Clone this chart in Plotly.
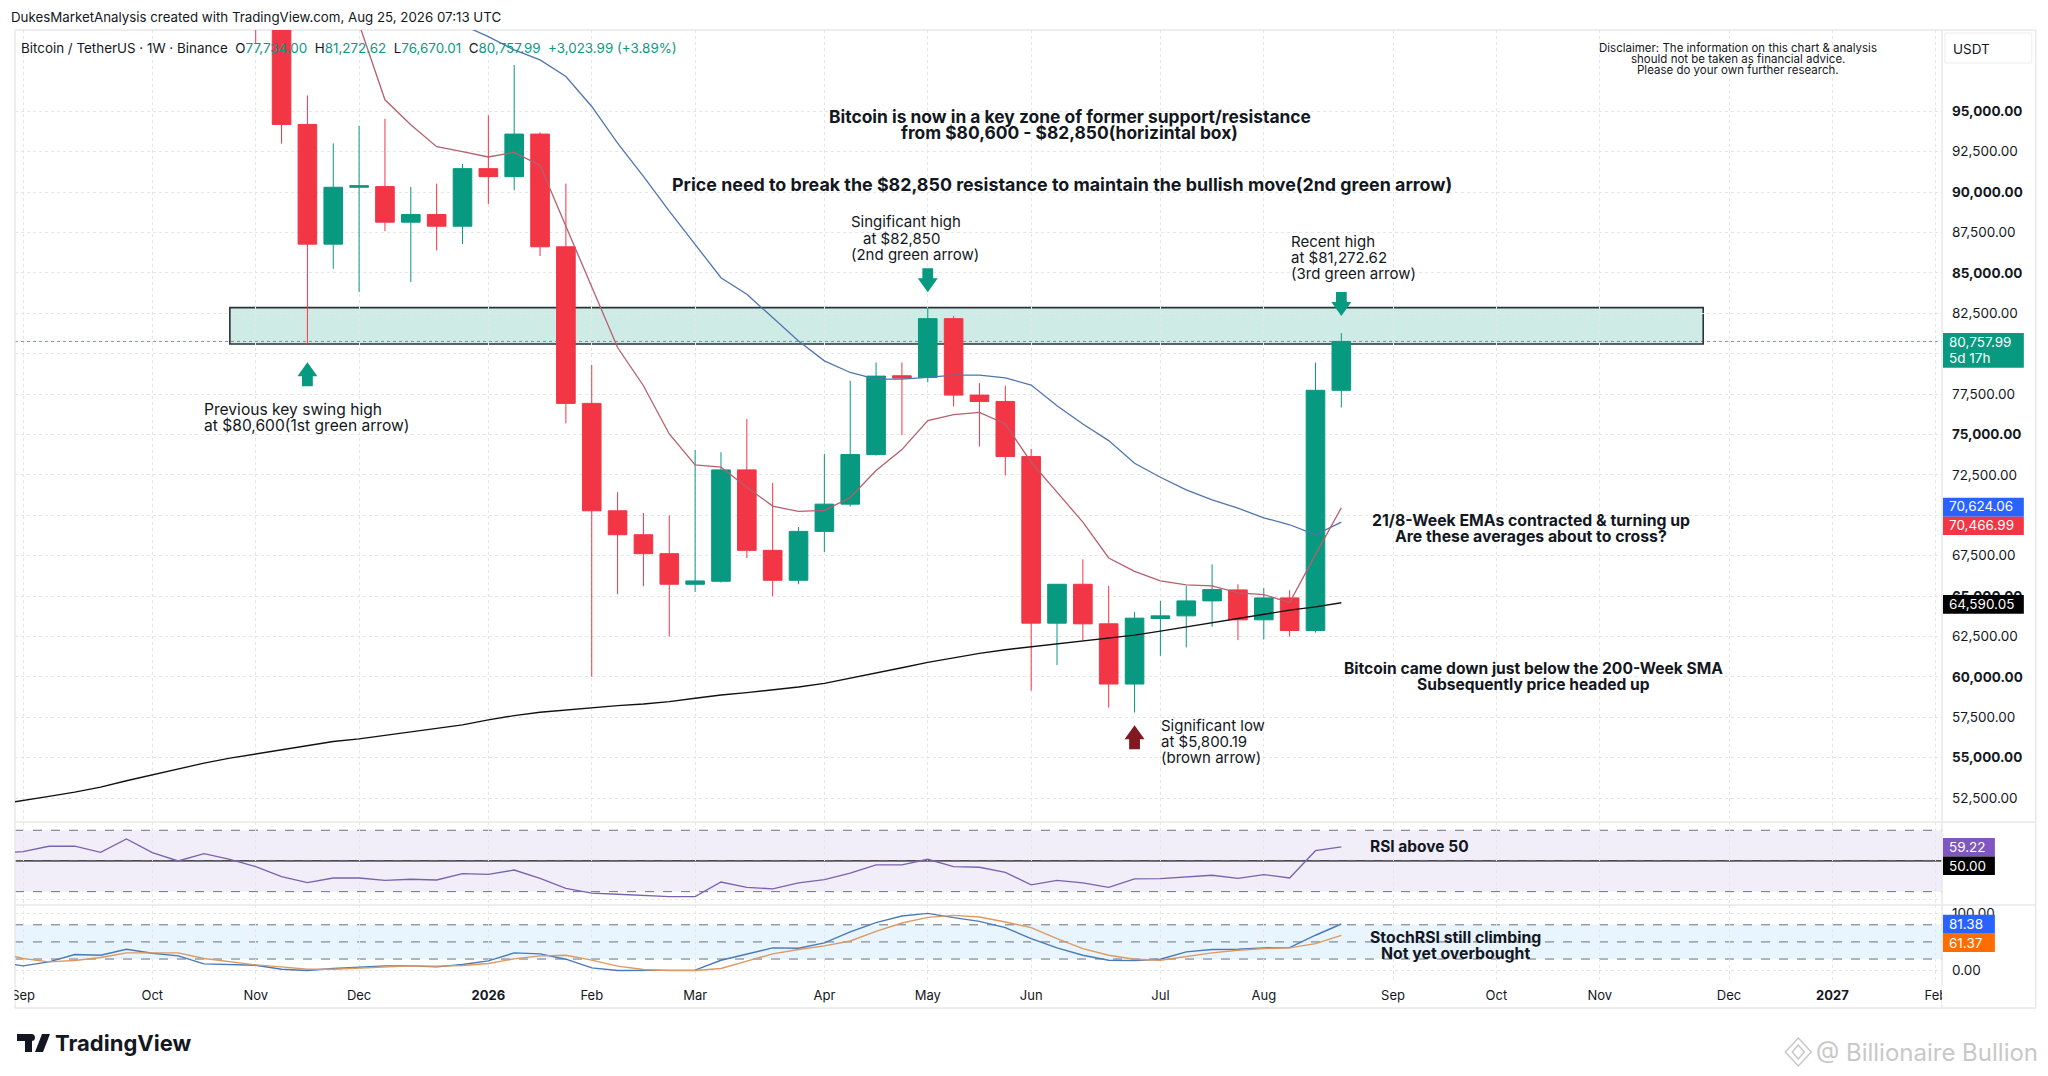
import plotly.graph_objects as go
import pandas as pd

PAGE_W, PAGE_H = 2048, 1076
BODY = 8  # the page's own margin round the figure
W, H = PAGE_W - BODY, PAGE_H - BODY
L, R, T, B = 11, 1942, 30, 983
SCALE_R = 2036
FONT = "Inter"
GREEN, RED = "#089981", "#F23645"

# ---- weekly data ----
week_start = "2025-08-25"
weeks = [d.strftime("%Y-%m-%d") for d in pd.date_range(week_start, "2026-08-24", freq="7D")]
candle_weeks = weeks[10:]
opens = [108000, 101500, 94187, 86780, 90300, 90340, 88138, 88611, 87890, 91451, 90957, 93590, 86615,
         76924, 70278, 68797, 67624, 65731, 65916, 72809, 67830, 65978, 69003, 70690, 73756, 78633,
         78530, 82168, 77436, 77045, 73632, 63324, 65731, 63283, 59558, 63612, 63776, 64702, 65381,
         63530, 64887, 62871, 77734.00]
highs = [110000, 103000, 95980, 93015, 94105, 94537, 90319, 90525, 91739, 94743, 97870, 93700, 90525,
         79310, 71431, 70134, 69990, 74044, 73900, 75957, 72007, 69270, 73797, 78323, 79456, 79456,
         82850, 82333, 78180, 78015, 74106, 65731, 67274, 65628, 64023, 64702, 65628, 66966, 65731,
         65505, 65361, 79456, 81272.62]
lows = [99208, 92994, 80540, 85258, 83817, 87582, 84434, 86390, 86780, 89270, 90113, 86040, 75690,
        60011, 65114, 65608, 62500, 65258, 65834, 67357, 64990, 65731, 67727, 70546, 73694, 74970,
        78221, 76736, 74250, 72460, 59147, 60731, 62274, 58097, 57800.19, 61307, 61822, 63097, 62274,
        62315, 62500, 62748, 76670.01]
closes = [102000, 94187, 86780, 90298, 90400, 88138, 88611, 87890, 91451, 90957, 93590, 86615, 76924,
          70278, 68797, 67624, 65731, 65937, 72809, 67830, 65978, 69003, 70690, 73756, 78612, 78489,
          82168, 77436, 77045, 73632, 63324, 65731, 63283, 59558, 63633, 63776, 64702, 65402, 63530,
          64887, 62871, 77734.00, 80757.99]

ema8 = [None] * 14 + [100400, 95710, 94167, 92809, 92500, 92171, 92459, 91656, 87890, 84187, 80380, 78015,
        75032, 73118, 72974, 71739, 70566, 70237, 70299, 71100, 72768, 74064, 75855, 76225, 76369, 75649,
        73283, 71431, 69579, 67357, 66534, 65937, 65690, 65628, 65196, 65093, 64600, 67562, 70466.99]
ema21 = [None] * 18 + [100339, 99620, 98796, 98179, 97150, 95298, 93035, 90977, 88818, 86760, 84702, 83675,
         82232, 80792, 79556, 78836, 78425, 78425, 78530, 78674, 78674, 78509, 78056, 76780, 75649, 74620,
         73221, 72356, 71575, 70957, 70443, 69846, 69414, 68797, 69579, 70624.06]
sma200 = [52100, 52336, 52604, 52871, 53180, 53570, 53941, 54311, 54661, 54970, 55217, 55484, 55752, 55999,
          56163, 56369, 56575, 56781, 57027, 57336, 57604, 57809, 57953, 58097, 58221, 58324, 58468, 58674,
          58879, 59024, 59187, 59373, 59600, 59908, 60237, 60566, 60896, 61184, 61451, 61678, 61863, 62028,
          62233, 62418, 62583, 62830, 63097, 63365, 63612, 63859, 64127, 64331, 64590.05]
rsi = [55, 56.1, 59.6, 59.6, 55.6, 64.3, 55.4, 50, 54.8, 51.1, 46.3, 39.8, 35.9, 38.9, 38.9, 37.4, 38.1, 37.6,
       41.7, 41.3, 44.1, 38.7, 32.2, 29.1, 28.3, 27.6, 26.8, 26.8, 36.3, 32.8, 31.8, 35.7, 37.8, 42, 47.4, 47.4,
       51.1, 46.3, 45.9, 42.6, 34.4, 37.4, 35.7, 32.8, 38.3, 38.5, 39.8, 40.7, 38.7, 41.1, 38.9, 56.7, 59.22]
stoch_k = [15, 8, 15, 27.9, 26.7, 37.2, 30.2, 25.5, 11.5, 9.8, 9.2, 2.2, 0, 3.4, 6.3, 8, 8, 6.3, 10.4, 16.8,
           30.8, 29, 19.7, 4.5, 0, 0, 0, 0.5, 17.9, 29, 39.5, 38.9, 48.3, 67.5, 83.8, 95.5, 100, 92.5, 86.1, 75,
           55.8, 39.5, 26.7, 18, 17.4, 19.7, 32.5, 36.6, 37.2, 39.5, 40, 61.7, 81.38]
stoch_d = [32.5, 21, 15, 17.4, 22.6, 30.8, 30.8, 30.8, 20.9, 15, 9.8, 6.3, 2.2, 2.2, 4.5, 6.3, 8, 7.5, 8.6, 12.1,
           20.3, 25.5, 26.7, 18, 7.5, 1.6, 0, 0, 3.4, 16.2, 29, 36.6, 43, 51.7, 68.6, 83.2, 93.1, 96.6, 93.7, 85,
           75, 55.8, 38.3, 26.7, 19.7, 18, 24.9, 30.8, 35.4, 38.3, 39.5, 47, 61.37]

price_ticks = list(range(52500, 95001, 2500))
hidden_by_tags = (70000, 80000)
price_ticktext = ["" if v in hidden_by_tags else (f"<b>{v:,.2f}</b>" if v % 5000 == 0 else f"{v:,.2f}") for v in price_ticks]
time_ticks = ["2025-09-01", "2025-10-06", "2025-11-03", "2025-12-01", "2026-01-05", "2026-02-02", "2026-03-02",
              "2026-04-06", "2026-05-04", "2026-06-01", "2026-07-06", "2026-08-03", "2026-09-07", "2026-10-05",
              "2026-11-02", "2026-12-07", "2027-01-04", "2027-02-01"]
time_labels = ["Sep", "Oct", "Nov", "Dec", "<b>2026</b>", "Feb", "Mar", "Apr", "May", "Jun", "Jul", "Aug", "Sep",
               "Oct", "Nov", "Dec", "<b>2027</b>", "Feb"]

zone_low, zone_high = 80600, 82850
last_close = 80757.99


def px(x):
    return (x - L) / (R - L)


def py(y):
    return 1 - (y - T) / (B - T)


def dom(y_top, y_bot):
    return [py(y_bot), py(y_top)]


fig = go.Figure()
fig.add_trace(go.Candlestick(x=candle_weeks, open=opens, high=highs, low=lows, close=closes,
                             increasing=dict(line=dict(color=GREEN, width=1), fillcolor=GREEN),
                             decreasing=dict(line=dict(color=RED, width=1), fillcolor=RED),
                             whiskerwidth=0, showlegend=False, yaxis="y"))
fig.add_trace(go.Scatter(x=weeks, y=sma200, mode="lines", line=dict(color="#111111", width=1.4), yaxis="y", showlegend=False))
fig.add_trace(go.Scatter(x=weeks, y=ema21, mode="lines", line=dict(color="#4F75AE", width=1.3), yaxis="y", showlegend=False))
fig.add_trace(go.Scatter(x=weeks, y=ema8, mode="lines", line=dict(color="#B5606A", width=1.3), yaxis="y", showlegend=False))
fig.add_trace(go.Scatter(x=weeks, y=rsi, mode="lines", line=dict(color="#7A62AE", width=1.3), yaxis="y2", showlegend=False))
fig.add_trace(go.Scatter(x=weeks, y=stoch_k, mode="lines", line=dict(color="#4A7AB5", width=1.4), yaxis="y3", showlegend=False))
fig.add_trace(go.Scatter(x=weeks, y=stoch_d, mode="lines", line=dict(color="#DB9A62", width=1.4), yaxis="y3", showlegend=False))

shapes = []


def rect(x0, y0, x1, y1, fill, line=None, layer="above"):
    shapes.append(dict(type="rect", xref="paper", yref="paper", x0=px(x0), x1=px(x1), y0=py(y1), y1=py(y0),
                       fillcolor=fill, line=dict(width=1 if line else 0, color=line or fill), layer=layer))


def hline(yref, val, color, dash="solid", width=1, layer="below"):
    shapes.append(dict(type="line", xref="paper", x0=0, x1=1, yref=yref, y0=val, y1=val,
                       line=dict(color=color, dash=dash, width=width), layer=layer))


def band(yref, a, b, color):
    shapes.append(dict(type="rect", xref="paper", x0=0, x1=1, yref=yref, y0=a, y1=b, fillcolor=color,
                       line=dict(width=0), layer="below"))


# zone box
shapes.append(dict(type="rect", xref="x", yref="y", x0="2025-10-27", x1="2026-11-30", y0=zone_low, y1=zone_high,
                   fillcolor="rgba(8,153,129,0.2)", line=dict(color="#2A3338", width=1.6), layer="below"))
hline("y", last_close, "rgba(8,153,129,0.75)", "dot")
band("y2", 30, 70, "rgba(126,87,194,0.1)")
for v in (70, 30):
    hline("y2", v, "#6E717C", "dash")
hline("y2", 50, "#111111", "solid", 1.2)
hline("y2", 50, "#6E717C", "dash")
band("y3", 20, 80, "rgba(33,150,243,0.1)")
for v in (80, 50, 20):
    hline("y3", v, "#6E717C", "dash")

UP = "M 0 0 L 10 -14 L 5.4 -14 L 5.4 -24 L -5.4 -24 L -5.4 -14 L -10 -14 Z"
DOWN = "M 0 0 L 10 14 L 5.4 14 L 5.4 24 L -5.4 24 L -5.4 14 L -10 14 Z"
for date, price, path, col in [("2025-11-17", 79475, UP, GREEN), ("2026-05-04", 83796, DOWN, GREEN),
                               ("2026-08-24", 82333, DOWN, GREEN), ("2026-06-29", 57006, UP, "#801922")]:
    shapes.append(dict(type="path", xref="x", yref="y", xsizemode="pixel", ysizemode="pixel", xanchor=date,
                       yanchor=price, path=path, fillcolor=col, line=dict(width=0), layer="above"))

# pane borders
BORDER = "#E8E8E8"
for y in (T, 822, 905, 1008):
    rect(L, y, SCALE_R, y, BORDER, BORDER, "below")
for x in (L, R, SCALE_R):
    rect(x, T, x, 1008, BORDER, BORDER, "below")

# clip time labels at pane edges
rect(0, 985, L - 0.5, 1005, "white")
rect(R, 985, 1950, 1005, "white")

# price tags
TAG_L = 1943
tags = [(TAG_L, 2024, 333, 367.7, GREEN), (TAG_L, 2024, 497.7, 516.7, "#2962FF"), (TAG_L, 2024, 516.7, 535, RED),
        (TAG_L, 2024, 595, 613.7, "#000000"), (TAG_L, 1995, 838, 856.5, "#7E57C2"), (TAG_L, 1995, 856.5, 875, "#000000"),
        (TAG_L, 1995, 914.7, 933, "#2962FF"), (TAG_L, 1995, 933, 952, "#FF6D00")]
for x0, x1, y0, y1, c in tags:
    rect(x0, y0, x1, y1, c)
rect(1945, 33, 2032, 63, "white", "#EDEDED")

anns = []


def text(x, y, s, size=15, bold=False, anchor="left", color="#131722", vanchor="middle", align=None):
    anns.append(dict(xref="paper", yref="paper", x=px(x), y=py(y), text=f"<b>{s}</b>" if bold else s, showarrow=False,
                     xanchor=anchor, yanchor=vanchor, align=align or anchor,
                     font=dict(family=FONT, size=size, color=color), borderpad=0, borderwidth=0))


def multi(x, ys, lines, **k):
    for y, s in zip(ys, lines):
        text(x, y, s, **k)


text(7, 17.5, "DukesMarketAnalysis created with TradingView.com, Aug 25, 2026 07:13 UTC", size=13.3)
g = lambda s: f"<span style='color:{GREEN}'>{s}</span>"
text(17, 48, "Bitcoin / TetherUS · 1W · Binance&nbsp;&nbsp;O" + g("77,734.00") + "&nbsp;&nbsp;H" + g("81,272.62")
     + "&nbsp;&nbsp;L" + g("76,670.01") + "&nbsp;&nbsp;C" + g("80,757.99") + "&nbsp;&nbsp;" + g("+3,023.99 (+3.89%)"), size=13.4)
multi(1068, [116, 133], ["Bitcoin is now in a key zone of former support/resistance", "from $80,600 - $82,850(horizintal box)"],
      size=17.4, bold=True, anchor="center")
text(1060, 184, "Price need to break the $82,850 resistance to maintain the bullish move(2nd green arrow)", size=17.85, bold=True, anchor="center")
text(849, 222, "Singificant high", size=15)
text(861, 238, "at $82,850", size=15)
text(849, 254, "(2nd green arrow)", size=15)
multi(1289.5, [241, 257, 273], ["Recent high", "at $81,272.62", "(3rd green arrow)"], size=15)
multi(200.5, [409, 425.3], ["Previous key swing high", "at $80,600(1st green arrow)"], size=15.6)
multi(1159.5, [725, 741, 757], ["Significant low", "at $5,800.19", "(brown arrow)"], size=15)
multi(1530, [520, 536], ["21/8-Week EMAs contracted &amp; turning up", "Are these averages about to cross?"], size=15.8, bold=True, anchor="center")
multi(1533, [668, 684], ["Bitcoin came down just below the 200-Week SMA", "Subsequently price headed up"], size=15.6, bold=True, anchor="center")
text(1418.5, 846.5, "RSI above 50", size=15.5, bold=True, anchor="center")
multi(1454.5, [937, 953], ["StochRSI still climbing", "Not yet overbought"], size=15.8, bold=True, anchor="center")
multi(1738, [47.7, 59, 70], ["Disclaimer: The information on this chart &amp; analysis", "should not be taken as financial advice.",
                             "Please do your own further research."], size=11.5, anchor="center")
text(1953, 49, "USDT", size=13.5)
tag_texts = [(1949, 342, "80,757.99"), (1949, 358, "5d 17h"), (1949, 506, "70,624.06"), (1949, 525, "70,466.99"),
             (1949, 604, "64,590.05"), (1949, 847, "59.22"), (1949, 866, "50.00"), (1949, 924, "81.38"), (1949, 942.5, "61.37")]
for x, y, s in tag_texts:
    text(x, y, s, size=13.5, color="white")
text(51, 1043, "<b>TradingView</b>", size=22, color="#131722")
text(1816, 1052, "@ Billionaire Bullion", size=24, color="#C8C8C8")

# TradingView mark
shapes.append(dict(type="path", xref="paper", yref="paper", xsizemode="pixel", ysizemode="pixel", xanchor=px(13),
                   yanchor=py(1052), line=dict(width=0), fillcolor="#131722", layer="above",
                   path="M 0 18 L 15 18 L 15 0 L 8 0 L 8 11 L 0 11 Z"))
shapes.append(dict(type="circle", xref="paper", yref="paper", x0=px(24), x1=px(31), y0=py(1041), y1=py(1034),
                   fillcolor="#131722", line=dict(width=0), layer="above"))
shapes.append(dict(type="path", xref="paper", yref="paper", xsizemode="pixel", ysizemode="pixel", xanchor=px(13),
                   yanchor=py(1052), line=dict(width=0), fillcolor="#131722", layer="above",
                   path="M 18 0 L 26 0 L 33 18 L 25 18 Z"))
# watermark diamond
shapes.append(dict(type="path", xref="paper", yref="paper", xsizemode="pixel", ysizemode="pixel", xanchor=px(1798),
                   yanchor=py(1052), line=dict(width=1.5, color="#C8C8C8"), fillcolor="rgba(0,0,0,0)", layer="above",
                   path="M 0 14 L 13 0 L 0 -14 L -13 0 Z M 0 7 L 6 0 L 0 -7 L -6 0 Z"))

axis_grid = dict(showgrid=True, gridcolor="#E6E6E6", griddash="dot", gridwidth=1, zeroline=False)
fig.update_layout(
    width=W, height=H, autosize=False, paper_bgcolor="white", plot_bgcolor="white",
    margin=dict(l=L - BODY, r=PAGE_W - R, t=T - BODY, b=PAGE_H - B), showlegend=False, hovermode=False,
    font=dict(family=FONT, color="#131722", size=13.5), boxgap=0.28, boxgroupgap=0,
    shapes=shapes, annotations=anns,
    xaxis=dict(type="date", range=["2025-08-29 19:30", "2027-02-02 16:00"], anchor="y3", tickmode="array",
               tickvals=time_ticks, ticktext=time_labels, ticklen=0, ticklabelstandoff=3, rangeslider=dict(visible=False),
               ticklabeloverflow="allow", tickangle=0, tickfont=dict(size=13), **axis_grid),
    yaxis=dict(domain=dom(T, 822), range=[51019, 100031], side="right", anchor="x", tickmode="array", tickvals=price_ticks,
               ticktext=price_ticktext, ticklen=0, ticklabelstandoff=9, tickfont=dict(size=13.5), **axis_grid),
    yaxis2=dict(domain=dom(822, 905), range=[21.3, 75.4], side="right", anchor="x", tickmode="array", tickvals=[25, 75],
                showticklabels=False, ticklen=0, **axis_grid),
    yaxis3=dict(domain=dom(905, B), range=[-22, 114.7], side="right", anchor="x", tickmode="array", tickvals=[0, 100],
                ticktext=["0.00", "100.00"], ticklen=0, ticklabelstandoff=9, tickfont=dict(size=13.5), **axis_grid),
)
fig.write_html("out.html")
